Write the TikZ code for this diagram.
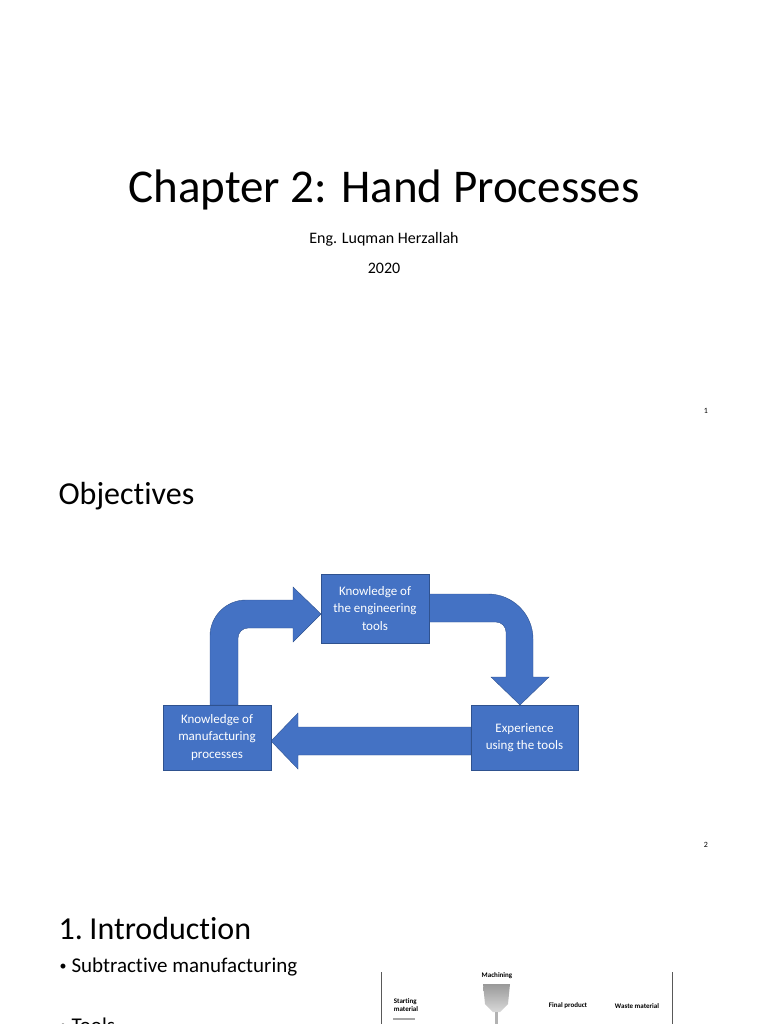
\documentclass[tikz,border=0pt]{standalone}
\usepackage{fontspec}
\setmainfont{Carlito}[Ligatures=NoCommon]
\definecolor{blu}{HTML}{4472C4}
\definecolor{bd}{HTML}{2F528F}
\newcommand{\bul}{{\fontsize{14}{14}\selectfont\raisebox{1.5pt}{•}}\hspace{5pt}}
\begin{document}
\begin{tikzpicture}[x=1pt,y=-1pt,
  box/.style={draw=bd,fill=blu,text=white,align=center,inner sep=0pt,font=\fontsize{13}{17.5}\selectfont},
  arr/.style={fill=blu,draw=bd,line width=0.4pt},
  small/.style={font=\fontsize{7}{7.5}\selectfont\bfseries,inner sep=0pt}]
\useasboundingbox (0,0) rectangle (768,1024);
\clip (0,0) rectangle (768,1024);
\node (t) at (384,190) {\fontsize{47}{52}\selectfont Chapter 2: Hand Processes};
\node (a) at (384,239) {\fontsize{16}{18}\selectfont Eng. Luqman Herzallah};
\node (y) at (384,268) {\fontsize{16}{18}\selectfont 2020};
\node (p1) at (706,411) {\fontsize{8}{9}\selectfont 1};
\node[anchor=west] (o) at (55,496) {\fontsize{32}{36}\selectfont Objectives};
\node (p2) at (706,845) {\fontsize{8}{9}\selectfont 2};
\node[anchor=west] (i) at (55,929) {\fontsize{32}{36}\selectfont 1.\hspace{-3pt} Introduction};
\node[anchor=west] (b1) at (56,967) {\fontsize{21}{24}\selectfont \bul Subtractive manufacturing};
\node[anchor=west] (b2) at (56,1025) {\fontsize{21}{24}\selectfont \bul Tools};
% arrows
\draw[arr] (210,705) -- (210,636) arc[start angle=180,end angle=270,radius=36] -- (293,600) -- (293,587) -- (321,614) -- (293,642) -- (293,628) -- (248,628) arc[start angle=270,end angle=180,radius=10] -- (238,705) -- cycle;
\draw[arr] (429,594) -- (488,594) arc[start angle=270,end angle=360,radius=45] -- (533,677) -- (549,677) -- (520,705) -- (491,677) -- (506,677) -- (506,632) arc[start angle=0,end angle=-90,radius=10] -- (429,622) -- cycle;
\draw[arr] (471,727) -- (298,727) -- (298,713) -- (271,741) -- (298,769) -- (298,755) -- (471,755) -- cycle;
\node[box,minimum width=108pt,minimum height=69pt] (k1) at (375,608.5) {Knowledge of\\the engineering\\tools};
\node[box,minimum width=108pt,minimum height=65pt] (k2) at (217,737.5) {Knowledge of\\manufacturing\\processes};
\node[box,minimum width=107pt,minimum height=65pt] (k3) at (524.5,737.5) {Experience\\using the tools};
% figure
\draw[gray!70!black,line width=0.8pt] (381,972) -- (381,1024) (672,972) -- (672,1024);
\node[small] (m) at (497,976) {Machining};
\node[small,align=left] (s) at (406,1005) {Starting\\material};
\node[small] (f) at (568,1006) {Final product};
\node[small] (w) at (637,1006) {Waste material};
\shade[top color=gray!80,bottom color=gray!30] (483,984) -- (510,984) -- (508,1004) -- (500,1012) -- (493,1012) -- (485,1004) -- cycle;
\fill[gray!60] (495,1012) rectangle (498,1024);
\fill[gray!70] (393,1018) rectangle (415,1020);
\end{tikzpicture}
\end{document}
